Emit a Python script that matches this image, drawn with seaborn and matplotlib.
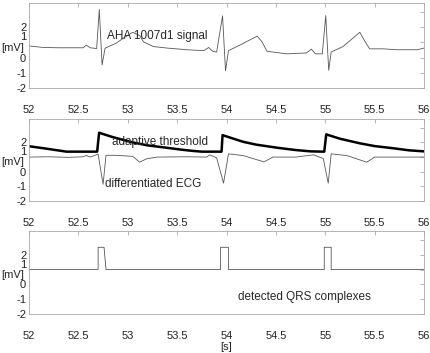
import numpy as np
import pandas as pd
import seaborn as sns
import matplotlib
matplotlib.use("Agg")
import matplotlib.pyplot as plt

# ECG signal (AHA 1007d1), breakpoints
ecg_t = [52.0, 52.15, 52.3, 52.55, 52.58, 52.62, 52.685, 52.712, 52.74, 52.77, 52.82, 52.88,
         52.96, 53.05, 53.12, 53.16, 53.26, 53.4, 53.6, 53.77, 53.82, 53.86, 53.9, 53.96,
         53.99, 54.02, 54.17, 54.31, 54.36, 54.41, 54.61, 54.81, 54.86, 54.9, 54.97, 55.005,
         55.035, 55.06, 55.18, 55.35, 55.39, 55.45, 55.59, 55.72, 55.93, 56.0]
ecg_v = [0.77, 0.67, 0.65, 0.65, 0.83, 0.65, 0.6, 3.17, -0.48, 0.62, 0.77, 0.94,
         1.3, 1.67, 1.46, 1.04, 0.73, 0.63, 0.52, 0.46, 0.67, 0.42, 0.37, 2.75,
         -0.87, 0.46, 0.94, 1.42, 1.04, 0.42, 0.25, 0.31, 0.56, 0.25, 0.25, 2.77,
         -0.83, 0.37, 0.73, 1.67, 1.2, 0.58, 0.58, 0.52, 0.52, 0.63]

# adaptive threshold
thr_t = [52.0, 52.15, 52.3, 52.38, 52.69, 52.71, 52.85, 53.05, 53.2, 53.39, 53.55, 53.66,
         53.75, 53.95, 53.96, 54.05, 54.17, 54.3, 54.51, 54.7, 54.85, 54.99, 55.01, 55.15,
         55.35, 55.5, 55.69, 55.85, 56.0]
thr_v = [1.74, 1.6, 1.45, 1.37, 1.37, 2.66, 2.36, 2.0, 1.8, 1.64, 1.5, 1.42,
         1.37, 1.37, 2.5, 2.3, 2.04, 1.85, 1.64, 1.48, 1.39, 1.37, 2.55, 2.25,
         1.94, 1.75, 1.6, 1.46, 1.39]

# differentiated ECG
dif_t = [52.0, 52.2, 52.4, 52.55, 52.58, 52.62, 52.7, 52.75, 52.78, 52.88, 53.05, 53.12,
         53.19, 53.3, 53.6, 53.8, 53.83, 53.9, 53.97, 54.02, 54.17, 54.38, 54.47, 54.7,
         54.88, 54.98, 55.03, 55.06, 55.22, 55.42, 55.5, 55.8, 56.0]
dif_v = [1.0, 1.02, 0.98, 1.02, 1.12, 1.0, 1.2, -0.86, 1.12, 1.12, 1.05, 0.65,
         0.88, 1.0, 1.02, 1.0, 1.15, 0.95, -0.78, 1.22, 1.1, 0.67, 1.0, 1.0,
         1.15, 0.9, -0.78, 1.22, 1.1, 0.65, 1.0, 1.0, 1.0]

# detected QRS pulses
qrs_t = [52.0, 52.70, 52.70, 52.76, 52.78, 53.94, 53.94, 54.02, 54.02, 54.99, 54.99, 55.06, 55.06, 56.0]
qrs_v = [1.0, 1.0, 2.5, 2.5, 1.0, 1.0, 2.5, 2.5, 1.0, 1.0, 2.5, 2.5, 1.0, 1.0]

xticks = [52, 52.5, 53, 53.5, 54, 54.5, 55, 55.5, 56]
xticklabels = ["52", "52.5", "53", "53.5", "54", "54.5", "55", "55.5", "56"]

sns.set_style("white")
plt.rcParams["font.family"] = ["Liberation Sans", "DejaVu Sans"]

W, H = 431, 353
fig = plt.figure(figsize=(W / 100, H / 100), dpi=100)

boxes = [(3, 88), (119, 201), (231, 314)]
axes = []
for top, bot in boxes:
    ax = fig.add_axes([29 / W, 1 - bot / H, 395 / W, (bot - top) / H])
    axes.append(ax)

gray = "#555555"
kw = dict(estimator=None, sort=False)
sns.lineplot(x=ecg_t, y=ecg_v, ax=axes[0], color=gray, lw=0.6, **kw)
sns.lineplot(x=thr_t, y=thr_v, ax=axes[1], color="black", lw=1.8, **kw)
sns.lineplot(x=dif_t, y=dif_v, ax=axes[1], color=gray, lw=0.6, **kw)
sns.lineplot(x=qrs_t, y=qrs_v, ax=axes[2], color=gray, lw=0.6, **kw)

for ax in axes:
    ax.set_xlim(52, 56)
    ax.set_ylim(-2, 3.6)
    ax.set_xticks(xticks)
    ax.set_xticklabels(xticklabels)
    ax.set_yticks([-2, -1, 0, 1, 2, 3])
    ax.set_yticklabels(["-2", "-1", "0", "1", "2", ""])
    ax.get_yticklabels()[3].set_va("bottom")
    ax.tick_params(direction="in", length=3, width=0.5, color="#999999",
                   labelsize=8, labelcolor="#222222", top=True, right=True)
    ax.tick_params(axis="x", pad=12)
    ax.tick_params(axis="y", pad=2)
    for s in ax.spines.values():
        s.set_color("#a8a8a8")
        s.set_linewidth(0.6)
    ax.set_ylabel("[mV]", rotation=0, fontsize=8, ha="right", va="center", color="#222222")
    ax.yaxis.set_label_coords(-0.012, 0.47)

axes[0].text(52.79, 1.4, "AHA 1007d1 signal", fontsize=8.5, va="center")
axes[1].text(52.84, 2.0, "adaptive threshold", fontsize=8.5, va="center")
axes[1].text(52.77, -0.85, "differentiated ECG", fontsize=8.5, va="center")
axes[2].text(54.12, -0.85, "detected QRS complexes", fontsize=8.5, va="center")
axes[2].set_xlabel("[s]", fontsize=8, labelpad=1, color="#222222")

fig.savefig("out.png", dpi=100)
